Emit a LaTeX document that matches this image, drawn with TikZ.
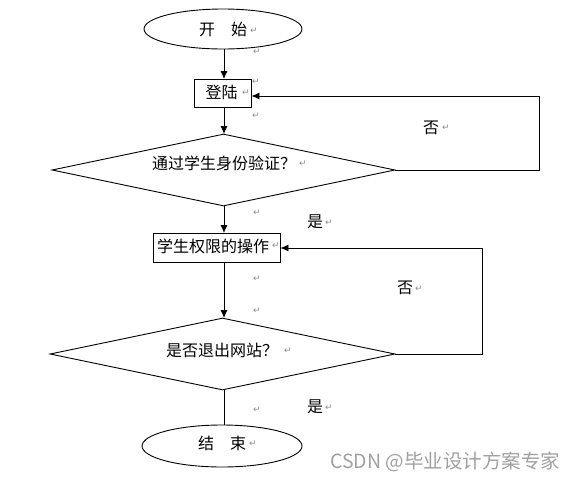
\documentclass[tikz,border=0pt]{standalone}
\usepackage{fontspec}
\setmainfont{Noto Sans CJK SC}
\newfontfamily\dvfont{DejaVu Sans}
\usetikzlibrary{shapes.geometric,arrows.meta}
\definecolor{pmgray}{RGB}{140,140,140}
\definecolor{wmgray}{RGB}{160,160,160}
\newcommand\retmk{{\dvfont\fontsize{9}{9}\selectfont\color{pmgray}↵}}
\tikzset{
  every node/.style={font=\fontsize{16}{16}\selectfont, inner sep=0pt},
  lw/.style={line width=0.9pt},
  term/.style={ellipse, draw, lw},
  boxnode/.style={rectangle, draw, lw},
  dia/.style={diamond, draw, lw},
  arr/.style={lw, -{Latex[length=8pt,width=7pt]}},
  pm/.style={inner sep=0pt}
}
\begin{document}
\begin{tikzpicture}[x=1pt,y=-1pt]
\useasboundingbox (0,0) rectangle (575,480);
% shapes
\node[term, minimum width=158pt, minimum height=40pt] (st) at (223,29) {};
\node[boxnode, minimum width=57pt, minimum height=28pt] (b1) at (222.5,93) {};
\node[dia, minimum width=343pt, minimum height=72pt] (d1) at (223.5,170) {};
\node[boxnode, minimum width=127pt, minimum height=29pt] (b2) at (216.5,247.5) {};
\node[dia, minimum width=345pt, minimum height=72pt] (d2) at (222.5,354) {};
\node[term, minimum width=160pt, minimum height=42pt] (en) at (222,446) {};
% texts
\node (tst) at (223,29) {开　始};
\node (tb1) at (221.5,92) {登陆};
\node (td1) at (224,163) {通过学生身份验证？};
\node (tb2) at (213,246) {学生权限的操作};
\node (td2) at (222,350) {是否退出网站？};
\node (ten) at (222,443) {结　束};
\node (no1) at (431,128) {否};
\node (no2) at (405,288) {否};
\node (yes1) at (315,222) {是};
\node (yes2) at (315,407) {是};
% connectors
\coordinate (c1) at (539,96);
\coordinate (c2) at (482,248);
\draw[arr] (224,49) -- (224,79);
\draw[arr] (224,107) -- (224,134);
\draw[arr] (224,206) -- (224,233);
\draw[arr] (224,262) -- (224,318);
\draw[lw] (224,390) -- (224,425);
\draw[arr] (d1.east) -| (c1) -- (c1 -| b1.east);
\draw[arr] (d2.east) -| (c2) -- (c2 -| b2.east);
% paragraph marks
\node[pm] (m1) at (254,31) {\retmk};
\node[pm] (m2) at (257,52) {\retmk};
\node[pm] (m3) at (256,82) {\retmk};
\node[pm] (m4) at (246,93) {\retmk};
\node[pm] (m5) at (256,116) {\retmk};
\node[pm] (m6) at (446,128) {\retmk};
\node[pm] (m7) at (303,164) {\retmk};
\node[pm] (m8) at (257,213) {\retmk};
\node[pm] (m9) at (329,223) {\retmk};
\node[pm] (m10) at (276,246) {\retmk};
\node[pm] (m11) at (257,279) {\retmk};
\node[pm] (m12) at (257,311) {\retmk};
\node[pm] (m13) at (419,289) {\retmk};
\node[pm] (m14) at (288,351) {\retmk};
\node[pm] (m15) at (257,410) {\retmk};
\node[pm] (m16) at (329,408) {\retmk};
\node[pm] (m17) at (253,444) {\retmk};
% watermark
\node[text=wmgray, anchor=west, font=\fontsize{19.5}{19.5}\selectfont] (wm) at (330,462) {CSDN @毕业设计方案专家};
\end{tikzpicture}
\end{document}
